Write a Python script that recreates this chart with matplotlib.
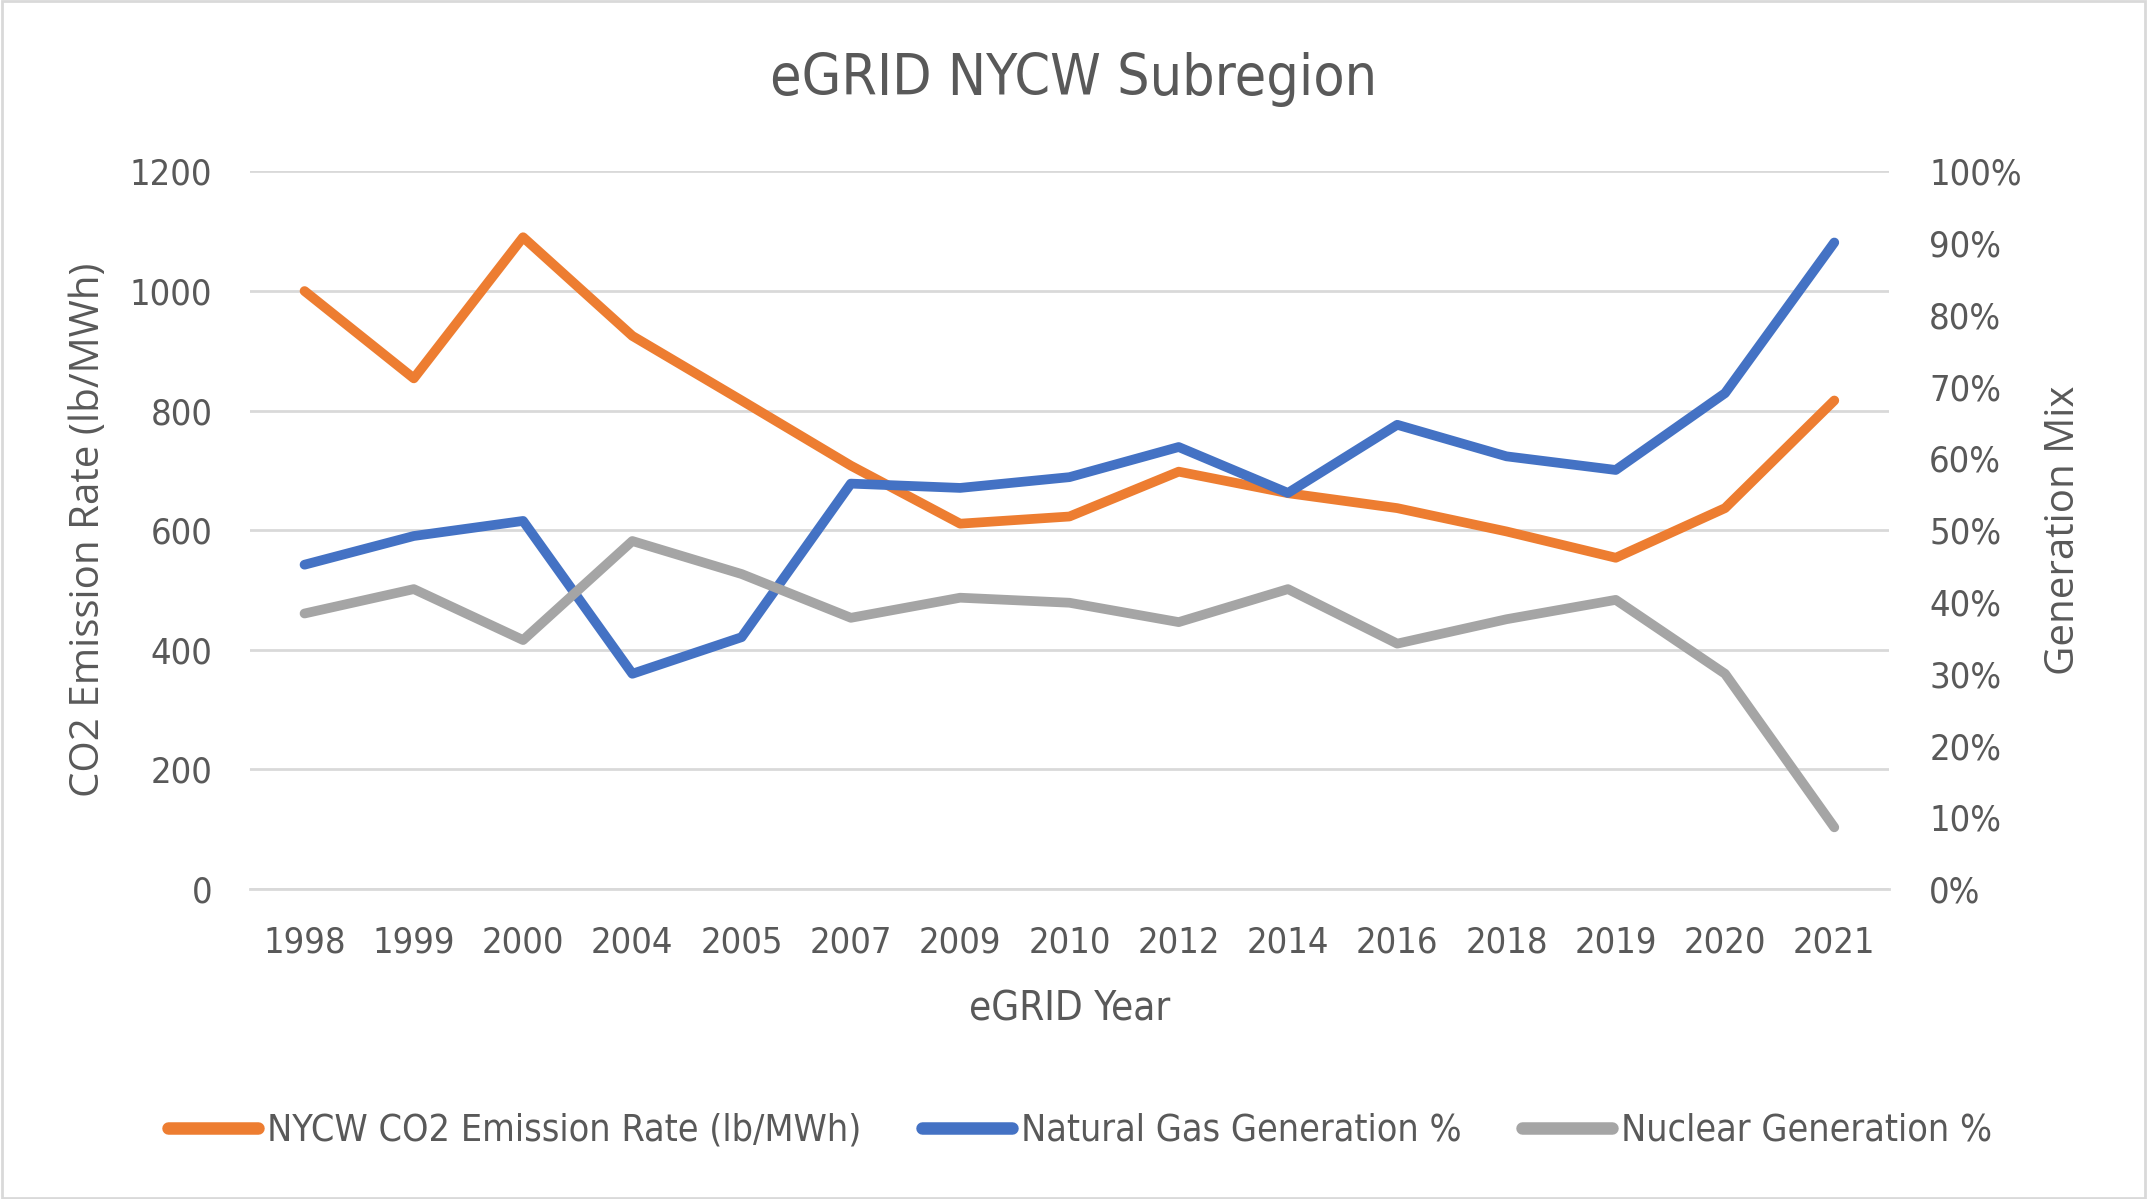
import matplotlib
matplotlib.use("Agg")
import matplotlib.pyplot as plt
from matplotlib.ticker import FuncFormatter
from matplotlib.patches import Rectangle
from matplotlib import font_manager

# eGRID years (categorical axis) and series values
years = ["1998", "1999", "2000", "2004", "2005", "2007", "2009", "2010",
         "2012", "2014", "2016", "2018", "2019", "2020", "2021"]
co2_rate = [1000, 854, 1090, 925, 817, 708, 611, 623, 698, 662, 637, 598, 554, 637, 817]
gas_pct = [45.2, 49.2, 51.3, 30.0, 35.1, 56.5, 55.9, 57.4, 61.6, 55.2, 64.7, 60.3, 58.4, 69.1, 90.1]
nuclear_pct = [38.4, 41.8, 34.7, 48.5, 43.9, 37.8, 40.6, 39.9, 37.2, 41.8, 34.2, 37.6, 40.3, 30.0, 8.6]

left_ticks = [0, 200, 400, 600, 800, 1000, 1200]
right_ticks = [0, 10, 20, 30, 40, 50, 60, 70, 80, 90, 100]

ORANGE = "#ED7D31"
BLUE = "#4472C4"
GRAY = "#A5A5A5"
TEXT = "#595959"
GRID = "#D9D9D9"

# condensed face stands in for Calibri
narrow = font_manager.FontProperties(family="DejaVu Sans", stretch="condensed")
wide = ["Open Sans", "DejaVu Sans"]


def nfont(size):
    fp = narrow.copy()
    fp.set_size(size)
    return fp


fig = plt.figure(figsize=(21.47, 11.99), dpi=100)
fig.patches.append(Rectangle((0.001, 0.001), 0.998, 0.998, transform=fig.transFigure,
                             fill=False, edgecolor=GRID, linewidth=2))

ax = fig.add_axes([0.1164, 0.2585, 0.7634, 0.5985])
ax2 = ax.twinx()

x = list(range(len(years)))
lw = 7
l1, = ax.plot(x, co2_rate, color=ORANGE, lw=lw, solid_joinstyle="round",
              solid_capstyle="round", label="NYCW CO2 Emission Rate (lb/MWh)")
l2, = ax2.plot(x, gas_pct, color=BLUE, lw=lw, solid_joinstyle="round",
               solid_capstyle="round", label="Natural Gas Generation %")
l3, = ax2.plot(x, nuclear_pct, color=GRAY, lw=lw, solid_joinstyle="round",
               solid_capstyle="round", label="Nuclear Generation %")

ax.set_xlim(-0.5, len(years) - 0.5)
ax.set_ylim(0, 1200)
ax2.set_ylim(0, 100)
ax.set_yticks(left_ticks)
ax2.set_yticks(right_ticks)
ax2.yaxis.set_major_formatter(FuncFormatter(lambda v, p: f"{int(v)}%"))
ax.set_xticks(x)
ax.set_xticklabels(years)

ax.grid(axis="y", color=GRID, lw=2)
ax.set_axisbelow(True)
for a in (ax, ax2):
    for s in a.spines.values():
        s.set_visible(False)
ax.spines["bottom"].set_visible(True)
ax.spines["bottom"].set_color(GRID)
ax.spines["bottom"].set_linewidth(2)

ax.tick_params(axis="y", length=0, pad=27, labelcolor=TEXT)
ax.tick_params(axis="x", length=0, pad=26, labelcolor=TEXT)
ax2.tick_params(axis="y", length=0, pad=29, labelcolor=TEXT)
for lab in ax.get_xticklabels() + ax.get_yticklabels() + ax2.get_yticklabels():
    lab.set_fontproperties(nfont(26))

fig.text(0.4999, 0.934, "eGRID NYCW Subregion", ha="center", va="center",
         color=TEXT, fontproperties=nfont(41))
fig.text(0.0415, 0.558, "CO2 Emission Rate (lb/MWh)", ha="center", va="center",
         rotation=90, fontsize=29, color=TEXT, family=wide)
fig.text(0.961, 0.558, "Generation Mix", ha="center", va="center",
         rotation=90, fontsize=29, color=TEXT, family=wide)
fig.text(0.498, 0.158, "eGRID Year", ha="center", va="center",
         color=TEXT, fontproperties=nfont(29))

leg = fig.legend(handles=[l1, l2, l3], loc="center", bbox_to_anchor=(0.503, 0.057),
                 ncol=3, frameon=False, handlelength=2.4, handletextpad=0.25,
                 columnspacing=1.6, prop=nfont(27))
for t in leg.get_texts():
    t.set_color(TEXT)
for h in leg.legend_handles:
    h.set_linewidth(9)

fig.savefig("out.png", dpi=100)
